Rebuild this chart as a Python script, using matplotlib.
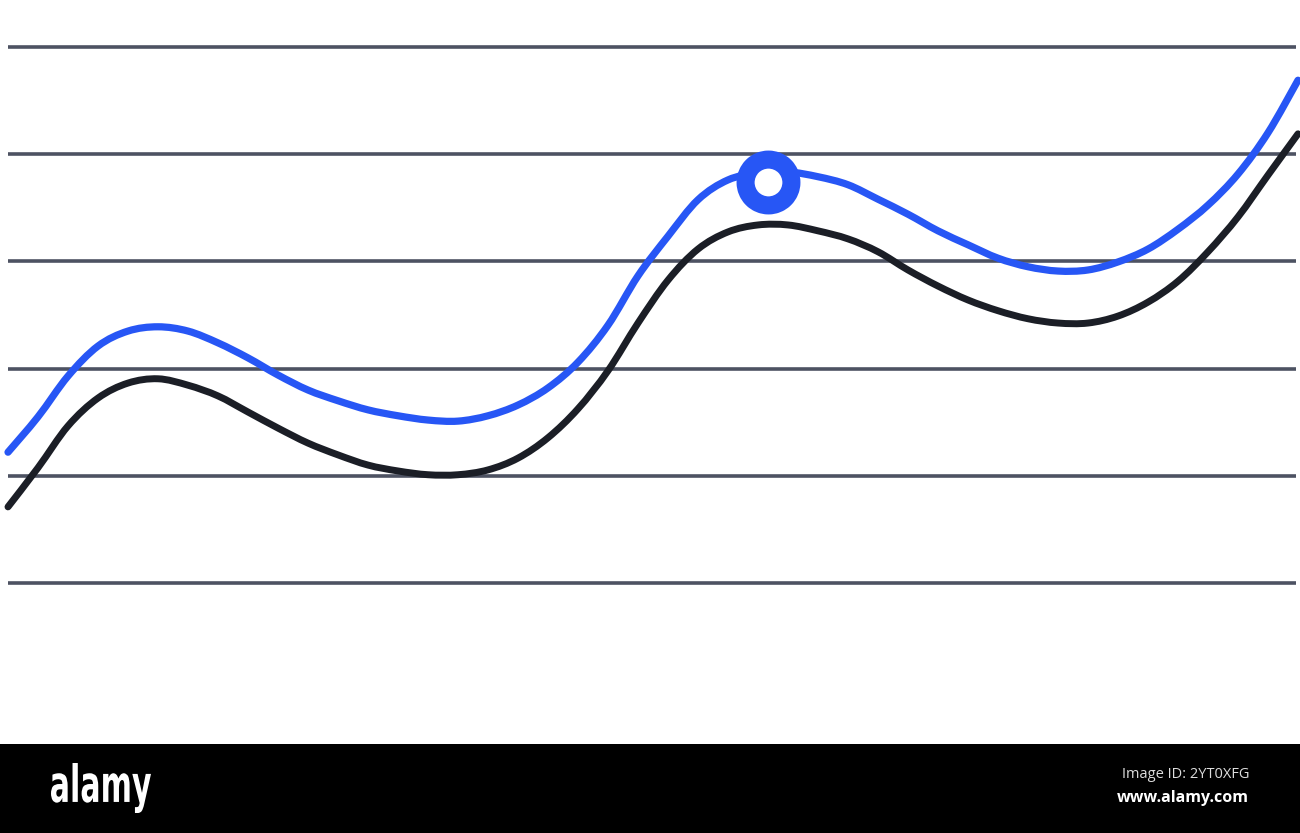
import matplotlib.pyplot as plt
from matplotlib.patches import Rectangle, PathPatch
from matplotlib.path import Path
from matplotlib.textpath import TextPath
from matplotlib.font_manager import FontProperties
from matplotlib.transforms import Affine2D

# values (x position, value on a 0-100 scale, gridlines every 20)
x = [8, 38, 68, 98, 128, 158, 188, 218, 248, 278, 308, 338, 368, 398, 428,
     458, 488, 518, 548, 578, 608, 638, 668, 698, 728, 758, 788, 818, 848, 878,
     908, 938, 968, 998, 1028, 1058, 1088, 1118, 1148, 1178, 1208, 1238, 1268,
     1298]

blue_vals = [24.4, 31.0, 38.6, 44.2, 47.0, 47.8, 47.0, 44.8, 42.0, 38.8, 36.0,
             34.0, 32.3, 31.2, 30.4, 30.2, 31.2, 33.2, 36.4, 41.2, 48.1, 57.3,
             64.7, 71.5, 75.2, 76.5, 76.7, 75.8, 74.3, 71.6, 68.8, 65.7, 63.1,
             60.6, 59.0, 58.2, 58.4, 59.9, 62.3, 66.0, 70.5, 76.3, 84.0, 93.8]

black_vals = [14.2, 21.5, 29.3, 34.5, 37.3, 38.1, 36.9, 34.9, 31.9, 28.9, 26.1,
              23.9, 22.0, 20.9, 20.2, 20.2, 21.1, 23.3, 27.1, 32.5, 39.6, 48.5,
              56.5, 62.3, 65.5, 66.8, 66.8, 65.7, 64.2, 61.8, 58.4, 55.4, 52.8,
              50.8, 49.3, 48.5, 48.5, 49.8, 52.4, 56.3, 61.8, 68.3, 76.1, 83.8]

grid_levels = [0, 20, 40, 60, 80, 100]
highlight_x = 768
highlight_y = 74.8

blue = '#2756f5'
dark = '#1b1e26'
grid_col = '#4d5262'


def smooth_path(xs, ys):
    # catmull-rom through the read points, drawn as cubic bezier segments
    pts = list(zip(xs, ys))
    verts = [pts[0]]
    codes = [Path.MOVETO]
    n = len(pts)
    for i in range(n - 1):
        p0 = pts[i - 1] if i > 0 else pts[i]
        p1 = pts[i]
        p2 = pts[i + 1]
        p3 = pts[i + 2] if i + 2 < n else pts[i + 1]
        c1 = (p1[0] + (p2[0] - p0[0]) / 6, p1[1] + (p2[1] - p0[1]) / 6)
        c2 = (p2[0] - (p3[0] - p1[0]) / 6, p2[1] - (p3[1] - p1[1]) / 6)
        verts += [c1, c2, p2]
        codes += [Path.CURVE4] * 3
    return Path(verts, codes)


fig = plt.figure(figsize=(13, 8.33), dpi=100)
fig.patch.set_facecolor('white')

ax = fig.add_axes([0, 89 / 833, 1, 744 / 833])
ax.set_xlim(0, 1300)
ax.set_ylim(-30.04, 108.77)
ax.axis('off')

# horizontal guide lines
ax.hlines(grid_levels, 8, 1296, colors=grid_col, linewidth=2.6, zorder=1)

# the two curves
ax.add_patch(PathPatch(smooth_path(x, black_vals), facecolor='none',
                       edgecolor=dark, linewidth=5, capstyle='round',
                       joinstyle='round', zorder=2))
ax.add_patch(PathPatch(smooth_path(x, blue_vals), facecolor='none',
                       edgecolor=blue, linewidth=5.2, capstyle='round',
                       joinstyle='round', zorder=3))

# highlighted point
ax.plot([highlight_x], [highlight_y], marker='o', markersize=33,
        markerfacecolor='white', markeredgecolor=blue, markeredgewidth=13,
        zorder=4)

# footer strip
fig.patches.append(Rectangle((0, 0), 1, 89 / 833, transform=fig.transFigure,
                             facecolor='black', edgecolor='none', zorder=0))

# logo word, squeezed into the box it takes in the reference
logo = TextPath((0, 0), 'alamy', size=40,
                prop=FontProperties(family='DejaVu Sans', weight='bold'))
bb = logo.get_extents()
sx = 100 / bb.width
sy = 50 / bb.height
logo_tr = (Affine2D().translate(-bb.x0, -bb.y0).scale(sx, sy)
           .translate(51, 833 - 813).scale(1 / 1300, 1 / 833) + fig.transFigure)
fig.patches.append(PathPatch(logo, transform=logo_tr, facecolor='white',
                             edgecolor='none', zorder=1))

fig.text(1249 / 1300, 1 - 775 / 833, 'Image ID: 2YT0XFG', color='#dddddd',
         fontsize=10.5, ha='right', va='center', family='Open Sans')
fig.text(1249 / 1300, 1 - 798 / 833, 'www.alamy.com', color='white', fontsize=11.5,
         fontweight='bold', ha='right', va='center', family='Open Sans')

fig.savefig('out.png', dpi=100)
